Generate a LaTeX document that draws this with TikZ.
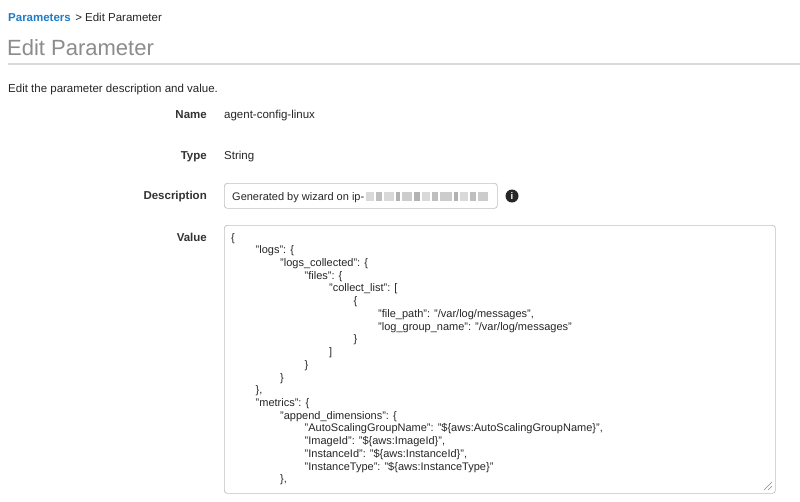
\documentclass[tikz,border=0pt]{standalone}
\usepackage{fontspec}
\setmainfont{Liberation Sans}
\begin{document}
\begin{tikzpicture}[x=1pt,y=-1pt,
  txt/.style={anchor=base west,inner sep=0pt,font=\fontsize{11.5}{12}\selectfont,text=black!85},
  lbl/.style={anchor=base east,inner sep=0pt,font=\fontsize{11.5}{12}\selectfont\bfseries,text=black!80},
  code/.style={anchor=base west,inner sep=0pt,font=\fontsize{11}{12}\selectfont,text=black!85},
  box/.style={draw=black!25,fill=white,rounded corners=3pt,line width=0.7pt}]
\useasboundingbox[fill=white] (0,0) rectangle (800,501);
% breadcrumb
\node[txt,font=\fontsize{11.5}{12}\selectfont\bfseries,text={rgb,255:red,30;green,125;blue,200}] (bc) at (8,21) {Parameters};
\node[txt,anchor=base west] (bc2) at ([xshift=4pt]bc.base east) {> Edit Parameter};
% title
\node[anchor=base west,inner sep=0pt,font=\fontsize{22}{24}\selectfont,text=black!45] (title) at (7,55) {Edit Parameter};
\coordinate (hl) at (8,64); \coordinate (hr) at (800,64);
\draw[black!15,line width=1.2pt] (hl) -- (hr);
\node[txt] (intro) at (8,92) {Edit the parameter description and value.};
% fields
\node[lbl] (lname) at (207,118) {Name};
\node[txt] (vname) at (224,118) {agent-config-linux};
\node[lbl] (ltype) at (207,159) {Type};
\node[txt] (vtype) at (224,159) {String};
\node[lbl] (ldesc) at (207,199) {Description};
\node[box,minimum width=273pt,minimum height=25pt,anchor=north west] (dbox) at (224,183) {};
\node[txt,font=\fontsize{11}{12}\selectfont] (dtext) at (232,200) {Generated by wizard on ip-};
\foreach \x/\w/\o in {366/8/0.15,376/6/0.25,384/10/0.15,396/4/0.3,402/10/0.2,414/6/0.3,422/8/0.15,432/6/0.25,440/12/0.2,454/4/0.3,460/8/0.15,470/6/0.25,478/10/0.2}
  \fill[black,opacity=\o] (\x,192) rectangle ++(\w,9);
\node[circle,fill=black!85,inner sep=0pt,minimum size=13pt,text=white,font=\fontsize{9.5}{9.5}\selectfont\bfseries] (info) at (512,196) {i};
\node[lbl] (lval) at (207,241) {Value};
\node[box,minimum width=551pt,minimum height=268pt,anchor=north west] (vbox) at (224,225) {};
\coordinate (r1) at (764,490); \coordinate (r2) at (772,482);
\coordinate (r3) at (768,490); \coordinate (r4) at (772,486);
\draw[black!45,line width=0.5pt] (r1) -- (r2) (r3) -- (r4);
% code
\foreach \i/\ind/\t in {
 0/0/{\{},
 1/1/{"logs": \{},
 2/2/{"logs\_collected": \{},
 3/3/{"files": \{},
 4/4/{"collect\_list": [},
 5/5/{\{},
 6/6/{"file\_path": "/var/log/messages",},
 7/6/{"log\_group\_name": "/var/log/messages"},
 8/5/{\}},
 9/4/{]},
 10/3/{\}},
 11/2/{\}},
 12/1/{\},},
 13/1/{"metrics": \{},
 14/2/{"append\_dimensions": \{},
 15/3/{"AutoScalingGroupName": "\$\{aws:AutoScalingGroupName\}",},
 16/3/{"ImageId": "\$\{aws:ImageId\}",},
 17/3/{"InstanceId": "\$\{aws:InstanceId\}",},
 18/3/{"InstanceType": "\$\{aws:InstanceType\}"},
 19/2/{\},}}
  \node[code] (c\i) at ({231+24.5*\ind},{241+12.73*\i}) {\t};
\end{tikzpicture}
\end{document}
